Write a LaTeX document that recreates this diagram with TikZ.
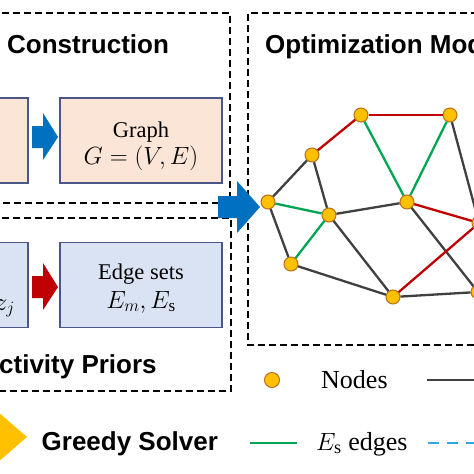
\documentclass[tikz,border=0pt]{standalone}
\usepackage{fontspec}
\setmainfont{Liberation Serif}
\newfontfamily\hfont{Liberation Sans}
\definecolor{gnode}{HTML}{FFC000}
\definecolor{nodeborder}{HTML}{B8701A}
\definecolor{graygr}{HTML}{404040}
\definecolor{redgr}{HTML}{C00000}
\definecolor{greengr}{HTML}{00A651}
\definecolor{arrblue}{HTML}{0070C0}
\definecolor{arrred}{HTML}{C00000}
\definecolor{peach}{HTML}{FBE5D6}
\definecolor{lblue}{HTML}{DAE3F3}
\definecolor{bord}{HTML}{4A5785}
\definecolor{cyanl}{HTML}{2EA8E0}
\definecolor{yel}{HTML}{FFC000}
\begin{document}
\begin{tikzpicture}[x=1pt,y=-1pt,
  panel/.style={draw=black, line width=2.4pt, dash pattern=on 7pt off 4pt},
  boxst/.style={draw=bord, line width=1.5pt},
  gn/.style={circle, fill=gnode, draw=nodeborder, line width=1pt, minimum size=14pt, inner sep=0pt},
  ge/.style={line width=2.3pt},
  title/.style={font=\hfont\bfseries\fontsize{26}{30}\selectfont, inner sep=0pt, anchor=base west},
  btext/.style={font=\fontsize{22.5}{27}\selectfont, inner sep=0pt, anchor=base},
  mtext/.style={font=\fontsize{24.5}{28}\selectfont, inner sep=0pt, anchor=base},
  ltext/.style={font=\fontsize{26}{30}\selectfont, inner sep=0pt, anchor=base west}
]
\useasboundingbox (0,0) rectangle (474,474);
\clip (0,0) rectangle (474,474);

% dashed panels
\draw[panel] (-20,13) -- (230,13) -- (230,203) -- (-20,203);
\draw[panel] (-20,218) -- (231,218) -- (231,391) -- (-20,391);
\draw[panel] (500,13) -- (248,13) -- (248,345) -- (500,345);

% titles
\node[title] (t1) at (7,53) {Construction};
\node[title] (t2) at (265,53) {Optimization Model};
\node[title] (t3) at (-1,373) {ctivity Priors};
\node[title] (t4) at (41.5,450) {Greedy Solver};

% left partial boxes
\node[boxst, fill=peach, minimum width=120pt, minimum height=85pt, inner sep=0pt] (lb1) at (-32,140.5) {};
\node[boxst, fill=lblue, minimum width=120pt, minimum height=85pt, inner sep=0pt] (lb2) at (-32,285) {};
\node[mtext, anchor=base east] (frag) at (15,310) {$z_j$};

% main boxes
\node[boxst, fill=peach, minimum width=162pt, minimum height=85pt, inner sep=0pt] (graph) at (141,140.5) {};
\node[btext] (gt1) at (141,137) {Graph};
\node[mtext] (gt2) at (141,164) {$G=(V,E)$};
\node[boxst, fill=lblue, minimum width=162pt, minimum height=85pt, inner sep=0pt] (edges) at (141,285) {};
\node[btext] (et1) at (141,279) {Edge sets};
\node[mtext] (et2) at (141,308) {$E_m, E_{\mathrm{s}}$};

% block arrows
\fill[arrblue] (32,126) -- (43,126) -- (43,113) -- (58,137) -- (43,160) -- (43,148) -- (32,148) -- cycle;
\fill[arrred] (32,276) -- (43,276) -- (43,263) -- (58,287) -- (43,310) -- (43,298) -- (32,298) -- cycle;
\fill[arrblue] (218,196) -- (237,196) -- (237,181) -- (260,207) -- (237,233) -- (237,218) -- (218,218) -- cycle;

% graph nodes
\node[gn] (n1) at (268,202) {};
\node[gn] (n2) at (312,155) {};
\node[gn] (n3) at (361,115) {};
\node[gn] (n4) at (450,115) {};
\node[gn] (n5) at (329,215) {};
\node[gn] (n6) at (407,202) {};
\node[gn] (n7) at (291,264) {};
\node[gn] (n8) at (393,297) {};
\node[gn] (n9) at (479,223) {};
\node[gn] (n10) at (478,292) {};

% graph edges
\draw[ge, graygr] (n1) -- (n2);
\draw[ge, redgr] (n2) -- (n3);
\draw[ge, redgr] (n3) -- (n4);
\draw[ge, greengr] (n3) -- (n6);
\draw[ge, greengr] (n4) -- (n6);
\draw[ge, graygr] (n4) -- (n9);
\draw[ge, graygr] (n2) -- (n5);
\draw[ge, greengr] (n1) -- (n5);
\draw[ge, graygr] (n1) -- (n7);
\draw[ge, greengr] (n5) -- (n7);
\draw[ge, graygr] (n5) -- (n6);
\draw[ge, graygr] (n5) -- (n8);
\draw[ge, graygr] (n7) -- (n8);
\draw[ge, redgr] (n6) -- (n9);
\draw[ge, graygr] (n6) -- (n10);
\draw[ge, redgr] (n8) -- (n9);
\draw[ge, graygr] (n8) -- (n10);

% legend
\node[gn, minimum size=15pt] (lgn) at (272,380) {};
\node[ltext] (lg1) at (321,388) {Nodes};
\coordinate (lga) at (427,380);
\coordinate (lgb) at (490,380);
\draw[ge, graygr] (lga) -- (lgb);
\coordinate (lgc) at (250,443);
\coordinate (lgd) at (297,443);
\draw[ge, greengr] (lgc) -- (lgd);
\node[ltext] (lg2) at (316,450) {$E_{\mathrm{s}}$ edges};
\coordinate (lge) at (428,443);
\coordinate (lgf) at (490,443);
\draw[ge, cyanl, dash pattern=on 11pt off 8pt] (lge) -- (lgf);

% yellow chevron
\fill[yel] (-3,411) -- (27,437) -- (-3,463) -- cycle;
\end{tikzpicture}
\end{document}
